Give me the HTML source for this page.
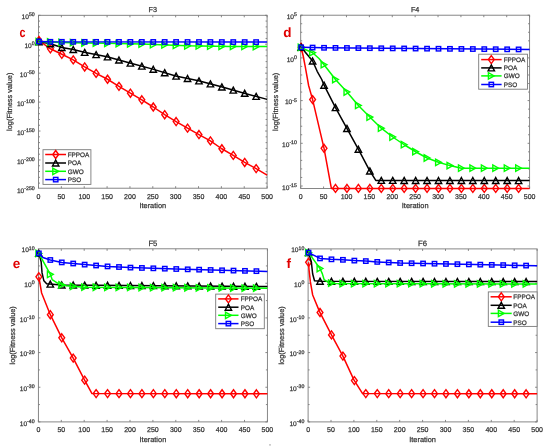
<!DOCTYPE html>
<html><head><meta charset="utf-8"><title>Convergence curves</title><style>html,body{margin:0;padding:0;background:#fff;}body{width:550px;height:448px;overflow:hidden;}svg{display:block;filter:blur(0.35px);text-rendering:geometricPrecision;}text{stroke:#3a3a3a;stroke-width:0.25px;}text.lt{stroke:#e00000;stroke-width:0px;}</style></head><body>
<svg width="550" height="448" viewBox="0 0 550 448" font-family='"Liberation Sans", Arial, Helvetica, sans-serif' fill="#333333">
<rect width="550" height="448" fill="#fff"/>
<g stroke="#7a7a7a" stroke-width="0.9"><line x1="38.50" y1="188.20" x2="38.50" y2="186.20"/><line x1="38.50" y1="15.30" x2="38.50" y2="17.30"/><line x1="61.36" y1="188.20" x2="61.36" y2="186.20"/><line x1="61.36" y1="15.30" x2="61.36" y2="17.30"/><line x1="84.22" y1="188.20" x2="84.22" y2="186.20"/><line x1="84.22" y1="15.30" x2="84.22" y2="17.30"/><line x1="107.08" y1="188.20" x2="107.08" y2="186.20"/><line x1="107.08" y1="15.30" x2="107.08" y2="17.30"/><line x1="129.94" y1="188.20" x2="129.94" y2="186.20"/><line x1="129.94" y1="15.30" x2="129.94" y2="17.30"/><line x1="152.80" y1="188.20" x2="152.80" y2="186.20"/><line x1="152.80" y1="15.30" x2="152.80" y2="17.30"/><line x1="175.66" y1="188.20" x2="175.66" y2="186.20"/><line x1="175.66" y1="15.30" x2="175.66" y2="17.30"/><line x1="198.52" y1="188.20" x2="198.52" y2="186.20"/><line x1="198.52" y1="15.30" x2="198.52" y2="17.30"/><line x1="221.38" y1="188.20" x2="221.38" y2="186.20"/><line x1="221.38" y1="15.30" x2="221.38" y2="17.30"/><line x1="244.24" y1="188.20" x2="244.24" y2="186.20"/><line x1="244.24" y1="15.30" x2="244.24" y2="17.30"/><line x1="267.10" y1="188.20" x2="267.10" y2="186.20"/><line x1="267.10" y1="15.30" x2="267.10" y2="17.30"/><line x1="38.50" y1="183.12" x2="40.00" y2="183.12"/><line x1="267.10" y1="183.12" x2="265.60" y2="183.12"/><line x1="38.50" y1="177.34" x2="40.00" y2="177.34"/><line x1="267.10" y1="177.34" x2="265.60" y2="177.34"/><line x1="38.50" y1="171.55" x2="40.00" y2="171.55"/><line x1="267.10" y1="171.55" x2="265.60" y2="171.55"/><line x1="38.50" y1="165.76" x2="40.00" y2="165.76"/><line x1="267.10" y1="165.76" x2="265.60" y2="165.76"/><line x1="38.50" y1="159.98" x2="40.50" y2="159.98"/><line x1="267.10" y1="159.98" x2="265.10" y2="159.98"/><line x1="38.50" y1="154.19" x2="40.00" y2="154.19"/><line x1="267.10" y1="154.19" x2="265.60" y2="154.19"/><line x1="38.50" y1="148.40" x2="40.00" y2="148.40"/><line x1="267.10" y1="148.40" x2="265.60" y2="148.40"/><line x1="38.50" y1="142.61" x2="40.00" y2="142.61"/><line x1="267.10" y1="142.61" x2="265.60" y2="142.61"/><line x1="38.50" y1="136.83" x2="40.00" y2="136.83"/><line x1="267.10" y1="136.83" x2="265.60" y2="136.83"/><line x1="38.50" y1="131.04" x2="40.50" y2="131.04"/><line x1="267.10" y1="131.04" x2="265.10" y2="131.04"/><line x1="38.50" y1="125.25" x2="40.00" y2="125.25"/><line x1="267.10" y1="125.25" x2="265.60" y2="125.25"/><line x1="38.50" y1="119.47" x2="40.00" y2="119.47"/><line x1="267.10" y1="119.47" x2="265.60" y2="119.47"/><line x1="38.50" y1="113.68" x2="40.00" y2="113.68"/><line x1="267.10" y1="113.68" x2="265.60" y2="113.68"/><line x1="38.50" y1="107.89" x2="40.00" y2="107.89"/><line x1="267.10" y1="107.89" x2="265.60" y2="107.89"/><line x1="38.50" y1="102.10" x2="40.50" y2="102.10"/><line x1="267.10" y1="102.10" x2="265.10" y2="102.10"/><line x1="38.50" y1="96.32" x2="40.00" y2="96.32"/><line x1="267.10" y1="96.32" x2="265.60" y2="96.32"/><line x1="38.50" y1="90.53" x2="40.00" y2="90.53"/><line x1="267.10" y1="90.53" x2="265.60" y2="90.53"/><line x1="38.50" y1="84.74" x2="40.00" y2="84.74"/><line x1="267.10" y1="84.74" x2="265.60" y2="84.74"/><line x1="38.50" y1="78.96" x2="40.00" y2="78.96"/><line x1="267.10" y1="78.96" x2="265.60" y2="78.96"/><line x1="38.50" y1="73.17" x2="40.50" y2="73.17"/><line x1="267.10" y1="73.17" x2="265.10" y2="73.17"/><line x1="38.50" y1="67.38" x2="40.00" y2="67.38"/><line x1="267.10" y1="67.38" x2="265.60" y2="67.38"/><line x1="38.50" y1="61.60" x2="40.00" y2="61.60"/><line x1="267.10" y1="61.60" x2="265.60" y2="61.60"/><line x1="38.50" y1="55.81" x2="40.00" y2="55.81"/><line x1="267.10" y1="55.81" x2="265.60" y2="55.81"/><line x1="38.50" y1="50.02" x2="40.00" y2="50.02"/><line x1="267.10" y1="50.02" x2="265.60" y2="50.02"/><line x1="38.50" y1="44.23" x2="40.50" y2="44.23"/><line x1="267.10" y1="44.23" x2="265.10" y2="44.23"/><line x1="38.50" y1="38.45" x2="40.00" y2="38.45"/><line x1="267.10" y1="38.45" x2="265.60" y2="38.45"/><line x1="38.50" y1="32.66" x2="40.00" y2="32.66"/><line x1="267.10" y1="32.66" x2="265.60" y2="32.66"/><line x1="38.50" y1="26.87" x2="40.00" y2="26.87"/><line x1="267.10" y1="26.87" x2="265.60" y2="26.87"/><line x1="38.50" y1="21.09" x2="40.00" y2="21.09"/><line x1="267.10" y1="21.09" x2="265.60" y2="21.09"/><line x1="38.50" y1="15.30" x2="40.50" y2="15.30"/><line x1="267.10" y1="15.30" x2="265.10" y2="15.30"/></g>
<rect x="38.50" y="15.30" width="228.60" height="172.90" fill="none" stroke="#7a7a7a" stroke-width="0.9"/>
<path d="M38.96 40.50L50.39 48.80L61.82 54.30L72.79 59.60L84.22 66.70L96.11 73.40L107.08 79.00L118.51 86.10L130.40 93.20L141.83 99.80L153.26 107.00L164.69 114.70L175.66 121.30L187.09 127.90L198.52 134.30L210.41 140.90L221.38 148.50L232.81 155.10L244.24 162.20L256.13 168.60L267.10 175.20" fill="none" stroke="#ff0000" stroke-width="1.5" stroke-linejoin="round"/>
<path d="M38.96 36.50L41.86 40.50L38.96 44.50L36.06 40.50Z" fill="none" stroke="#ff0000" stroke-width="1.4"/>
<path d="M50.39 44.80L53.29 48.80L50.39 52.80L47.49 48.80Z" fill="none" stroke="#ff0000" stroke-width="1.4"/>
<path d="M61.82 50.30L64.72 54.30L61.82 58.30L58.92 54.30Z" fill="none" stroke="#ff0000" stroke-width="1.4"/>
<path d="M73.25 55.88L76.15 59.88L73.25 63.88L70.35 59.88Z" fill="none" stroke="#ff0000" stroke-width="1.4"/>
<path d="M84.68 62.96L87.58 66.96L84.68 70.96L81.78 66.96Z" fill="none" stroke="#ff0000" stroke-width="1.4"/>
<path d="M96.11 69.40L99.01 73.40L96.11 77.40L93.21 73.40Z" fill="none" stroke="#ff0000" stroke-width="1.4"/>
<path d="M107.54 75.28L110.44 79.28L107.54 83.28L104.64 79.28Z" fill="none" stroke="#ff0000" stroke-width="1.4"/>
<path d="M118.97 82.37L121.87 86.37L118.97 90.37L116.07 86.37Z" fill="none" stroke="#ff0000" stroke-width="1.4"/>
<path d="M130.40 89.20L133.30 93.20L130.40 97.20L127.50 93.20Z" fill="none" stroke="#ff0000" stroke-width="1.4"/>
<path d="M141.83 95.80L144.73 99.80L141.83 103.80L138.93 99.80Z" fill="none" stroke="#ff0000" stroke-width="1.4"/>
<path d="M153.26 103.00L156.16 107.00L153.26 111.00L150.36 107.00Z" fill="none" stroke="#ff0000" stroke-width="1.4"/>
<path d="M164.69 110.70L167.59 114.70L164.69 118.70L161.79 114.70Z" fill="none" stroke="#ff0000" stroke-width="1.4"/>
<path d="M176.12 117.56L179.02 121.56L176.12 125.56L173.22 121.56Z" fill="none" stroke="#ff0000" stroke-width="1.4"/>
<path d="M187.55 124.16L190.45 128.16L187.55 132.16L184.65 128.16Z" fill="none" stroke="#ff0000" stroke-width="1.4"/>
<path d="M198.98 130.55L201.88 134.55L198.98 138.55L196.08 134.55Z" fill="none" stroke="#ff0000" stroke-width="1.4"/>
<path d="M210.41 136.90L213.31 140.90L210.41 144.90L207.51 140.90Z" fill="none" stroke="#ff0000" stroke-width="1.4"/>
<path d="M221.84 144.76L224.74 148.76L221.84 152.76L218.94 148.76Z" fill="none" stroke="#ff0000" stroke-width="1.4"/>
<path d="M233.27 151.38L236.17 155.38L233.27 159.38L230.37 155.38Z" fill="none" stroke="#ff0000" stroke-width="1.4"/>
<path d="M244.70 158.45L247.60 162.45L244.70 166.45L241.80 162.45Z" fill="none" stroke="#ff0000" stroke-width="1.4"/>
<path d="M256.13 164.60L259.03 168.60L256.13 172.60L253.23 168.60Z" fill="none" stroke="#ff0000" stroke-width="1.4"/>
<path d="M38.96 41.80L50.39 43.80L61.82 47.50L73.25 49.50L84.22 52.30L107.08 56.80L129.94 63.00L152.80 69.10L175.66 76.00L198.52 80.80L221.38 86.80L244.24 93.20L267.10 99.40" fill="none" stroke="#000000" stroke-width="1.5" stroke-linejoin="round"/>
<path d="M38.96 38.80L42.16 44.80L35.76 44.80Z" fill="none" stroke="#000000" stroke-width="1.4"/>
<path d="M50.39 40.80L53.59 46.80L47.19 46.80Z" fill="none" stroke="#000000" stroke-width="1.4"/>
<path d="M61.82 44.50L65.02 50.50L58.62 50.50Z" fill="none" stroke="#000000" stroke-width="1.4"/>
<path d="M73.25 46.50L76.45 52.50L70.05 52.50Z" fill="none" stroke="#000000" stroke-width="1.4"/>
<path d="M84.68 49.39L87.88 55.39L81.48 55.39Z" fill="none" stroke="#000000" stroke-width="1.4"/>
<path d="M96.11 51.64L99.31 57.64L92.91 57.64Z" fill="none" stroke="#000000" stroke-width="1.4"/>
<path d="M107.54 53.92L110.74 59.92L104.34 59.92Z" fill="none" stroke="#000000" stroke-width="1.4"/>
<path d="M118.97 57.02L122.17 63.02L115.77 63.02Z" fill="none" stroke="#000000" stroke-width="1.4"/>
<path d="M130.40 60.12L133.60 66.12L127.20 66.12Z" fill="none" stroke="#000000" stroke-width="1.4"/>
<path d="M141.83 63.17L145.03 69.17L138.63 69.17Z" fill="none" stroke="#000000" stroke-width="1.4"/>
<path d="M153.26 66.24L156.46 72.24L150.06 72.24Z" fill="none" stroke="#000000" stroke-width="1.4"/>
<path d="M164.69 69.69L167.89 75.69L161.49 75.69Z" fill="none" stroke="#000000" stroke-width="1.4"/>
<path d="M176.12 73.10L179.32 79.10L172.92 79.10Z" fill="none" stroke="#000000" stroke-width="1.4"/>
<path d="M187.55 75.50L190.75 81.50L184.35 81.50Z" fill="none" stroke="#000000" stroke-width="1.4"/>
<path d="M198.98 77.92L202.18 83.92L195.78 83.92Z" fill="none" stroke="#000000" stroke-width="1.4"/>
<path d="M210.41 80.92L213.61 86.92L207.21 86.92Z" fill="none" stroke="#000000" stroke-width="1.4"/>
<path d="M221.84 83.93L225.04 89.93L218.64 89.93Z" fill="none" stroke="#000000" stroke-width="1.4"/>
<path d="M233.27 87.13L236.47 93.13L230.07 93.13Z" fill="none" stroke="#000000" stroke-width="1.4"/>
<path d="M244.70 90.32L247.90 96.32L241.50 96.32Z" fill="none" stroke="#000000" stroke-width="1.4"/>
<path d="M256.13 93.42L259.33 99.42L252.93 99.42Z" fill="none" stroke="#000000" stroke-width="1.4"/>
<path d="M38.96 41.60L61.36 42.40L84.22 43.00L107.08 43.30L141.37 44.10L187.09 45.80L230.52 46.40L267.10 46.60" fill="none" stroke="#00ff00" stroke-width="1.5" stroke-linejoin="round"/>
<path d="M41.86 41.60L36.06 44.80L36.06 38.40Z" fill="none" stroke="#00ff00" stroke-width="1.4"/>
<path d="M53.29 42.01L47.49 45.21L47.49 38.81Z" fill="none" stroke="#00ff00" stroke-width="1.4"/>
<path d="M64.72 42.41L58.92 45.61L58.92 39.21Z" fill="none" stroke="#00ff00" stroke-width="1.4"/>
<path d="M76.15 42.71L70.35 45.91L70.35 39.51Z" fill="none" stroke="#00ff00" stroke-width="1.4"/>
<path d="M87.58 43.01L81.78 46.21L81.78 39.81Z" fill="none" stroke="#00ff00" stroke-width="1.4"/>
<path d="M99.01 43.16L93.21 46.36L93.21 39.96Z" fill="none" stroke="#00ff00" stroke-width="1.4"/>
<path d="M110.44 43.31L104.64 46.51L104.64 40.11Z" fill="none" stroke="#00ff00" stroke-width="1.4"/>
<path d="M121.87 43.58L116.07 46.78L116.07 40.38Z" fill="none" stroke="#00ff00" stroke-width="1.4"/>
<path d="M133.30 43.84L127.50 47.04L127.50 40.64Z" fill="none" stroke="#00ff00" stroke-width="1.4"/>
<path d="M144.73 44.12L138.93 47.32L138.93 40.92Z" fill="none" stroke="#00ff00" stroke-width="1.4"/>
<path d="M156.16 44.54L150.36 47.74L150.36 41.34Z" fill="none" stroke="#00ff00" stroke-width="1.4"/>
<path d="M167.59 44.97L161.79 48.17L161.79 41.77Z" fill="none" stroke="#00ff00" stroke-width="1.4"/>
<path d="M179.02 45.39L173.22 48.59L173.22 42.19Z" fill="none" stroke="#00ff00" stroke-width="1.4"/>
<path d="M190.45 45.81L184.65 49.01L184.65 42.61Z" fill="none" stroke="#00ff00" stroke-width="1.4"/>
<path d="M201.88 45.96L196.08 49.16L196.08 42.76Z" fill="none" stroke="#00ff00" stroke-width="1.4"/>
<path d="M213.31 46.12L207.51 49.32L207.51 42.92Z" fill="none" stroke="#00ff00" stroke-width="1.4"/>
<path d="M224.74 46.28L218.94 49.48L218.94 43.08Z" fill="none" stroke="#00ff00" stroke-width="1.4"/>
<path d="M236.17 46.41L230.37 49.62L230.37 43.21Z" fill="none" stroke="#00ff00" stroke-width="1.4"/>
<path d="M247.60 46.48L241.80 49.68L241.80 43.28Z" fill="none" stroke="#00ff00" stroke-width="1.4"/>
<path d="M259.03 46.54L253.23 49.74L253.23 43.34Z" fill="none" stroke="#00ff00" stroke-width="1.4"/>
<path d="M38.96 41.50L50.39 41.80L267.10 42.10" fill="none" stroke="#0000ff" stroke-width="1.5" stroke-linejoin="round"/>
<rect x="36.76" y="39.30" width="4.40" height="4.40" fill="none" stroke="#0000ff" stroke-width="1.4"/>
<rect x="48.19" y="39.60" width="4.40" height="4.40" fill="none" stroke="#0000ff" stroke-width="1.4"/>
<rect x="59.62" y="39.62" width="4.40" height="4.40" fill="none" stroke="#0000ff" stroke-width="1.4"/>
<rect x="71.05" y="39.63" width="4.40" height="4.40" fill="none" stroke="#0000ff" stroke-width="1.4"/>
<rect x="82.48" y="39.65" width="4.40" height="4.40" fill="none" stroke="#0000ff" stroke-width="1.4"/>
<rect x="93.91" y="39.66" width="4.40" height="4.40" fill="none" stroke="#0000ff" stroke-width="1.4"/>
<rect x="105.34" y="39.68" width="4.40" height="4.40" fill="none" stroke="#0000ff" stroke-width="1.4"/>
<rect x="116.77" y="39.69" width="4.40" height="4.40" fill="none" stroke="#0000ff" stroke-width="1.4"/>
<rect x="128.20" y="39.71" width="4.40" height="4.40" fill="none" stroke="#0000ff" stroke-width="1.4"/>
<rect x="139.63" y="39.73" width="4.40" height="4.40" fill="none" stroke="#0000ff" stroke-width="1.4"/>
<rect x="151.06" y="39.74" width="4.40" height="4.40" fill="none" stroke="#0000ff" stroke-width="1.4"/>
<rect x="162.49" y="39.76" width="4.40" height="4.40" fill="none" stroke="#0000ff" stroke-width="1.4"/>
<rect x="173.92" y="39.77" width="4.40" height="4.40" fill="none" stroke="#0000ff" stroke-width="1.4"/>
<rect x="185.35" y="39.79" width="4.40" height="4.40" fill="none" stroke="#0000ff" stroke-width="1.4"/>
<rect x="196.78" y="39.81" width="4.40" height="4.40" fill="none" stroke="#0000ff" stroke-width="1.4"/>
<rect x="208.21" y="39.82" width="4.40" height="4.40" fill="none" stroke="#0000ff" stroke-width="1.4"/>
<rect x="219.64" y="39.84" width="4.40" height="4.40" fill="none" stroke="#0000ff" stroke-width="1.4"/>
<rect x="231.07" y="39.85" width="4.40" height="4.40" fill="none" stroke="#0000ff" stroke-width="1.4"/>
<rect x="242.50" y="39.87" width="4.40" height="4.40" fill="none" stroke="#0000ff" stroke-width="1.4"/>
<rect x="253.93" y="39.88" width="4.40" height="4.40" fill="none" stroke="#0000ff" stroke-width="1.4"/>
<text x="38.50" y="198.60" text-anchor="middle" font-size="7">0</text>
<text x="61.36" y="198.60" text-anchor="middle" font-size="7">50</text>
<text x="84.22" y="198.60" text-anchor="middle" font-size="7">100</text>
<text x="107.08" y="198.60" text-anchor="middle" font-size="7">150</text>
<text x="129.94" y="198.60" text-anchor="middle" font-size="7">200</text>
<text x="152.80" y="198.60" text-anchor="middle" font-size="7">250</text>
<text x="175.66" y="198.60" text-anchor="middle" font-size="7">300</text>
<text x="198.52" y="198.60" text-anchor="middle" font-size="7">350</text>
<text x="221.38" y="198.60" text-anchor="middle" font-size="7">400</text>
<text x="244.24" y="198.60" text-anchor="middle" font-size="7">450</text>
<text x="267.10" y="198.60" text-anchor="middle" font-size="7">500</text>
<text x="152.80" y="207.80" text-anchor="middle" font-size="7.4">Iteration</text>
<text x="34.70" y="192.71" text-anchor="end" font-size="6.6">10<tspan font-size="5.2" dy="-2.7">-250</tspan></text>
<text x="34.70" y="163.78" text-anchor="end" font-size="6.6">10<tspan font-size="5.2" dy="-2.7">-200</tspan></text>
<text x="34.70" y="134.84" text-anchor="end" font-size="6.6">10<tspan font-size="5.2" dy="-2.7">-150</tspan></text>
<text x="34.70" y="105.90" text-anchor="end" font-size="6.6">10<tspan font-size="5.2" dy="-2.7">-100</tspan></text>
<text x="34.70" y="76.97" text-anchor="end" font-size="6.6">10<tspan font-size="5.2" dy="-2.7">-50</tspan></text>
<text x="34.70" y="48.03" text-anchor="end" font-size="6.6">10<tspan font-size="5.2" dy="-2.7">0</tspan></text>
<text x="34.70" y="19.10" text-anchor="end" font-size="6.6">10<tspan font-size="5.2" dy="-2.7">50</tspan></text>
<text transform="translate(11.80 101.75) rotate(-90)" text-anchor="middle" font-size="7.4">log(Fitness value)</text>
<text x="152.80" y="12.00" text-anchor="middle" font-size="7.2">F3</text>
<text transform="translate(19.60 37.00) scale(0.8 1)" font-size="13.5" font-weight="bold" fill="#e00000" class="lt">c</text>
<rect x="43.00" y="149.70" width="47.90" height="34.70" fill="#fff" stroke="#7a7a7a" stroke-width="0.9"/>
<line x1="45.20" y1="154.50" x2="66.00" y2="154.50" stroke="#ff0000" stroke-width="1.5"/>
<path d="M55.70 150.50L58.60 154.50L55.70 158.50L52.80 154.50Z" fill="none" stroke="#ff0000" stroke-width="1.4"/>
<text x="67.70" y="156.80" font-size="6.4">FPPOA</text>
<line x1="45.20" y1="163.00" x2="66.00" y2="163.00" stroke="#000000" stroke-width="1.5"/>
<path d="M55.70 160.00L58.90 166.00L52.50 166.00Z" fill="none" stroke="#000000" stroke-width="1.4"/>
<text x="67.70" y="165.30" font-size="6.4">POA</text>
<line x1="45.20" y1="171.30" x2="66.00" y2="171.30" stroke="#00ff00" stroke-width="1.5"/>
<path d="M58.60 171.30L52.80 174.50L52.80 168.10Z" fill="none" stroke="#00ff00" stroke-width="1.4"/>
<text x="67.70" y="173.60" font-size="6.4">GWO</text>
<line x1="45.20" y1="179.60" x2="66.00" y2="179.60" stroke="#0000ff" stroke-width="1.5"/>
<rect x="53.50" y="177.40" width="4.40" height="4.40" fill="none" stroke="#0000ff" stroke-width="1.4"/>
<text x="67.70" y="181.90" font-size="6.4">PSO</text>
<g stroke="#7a7a7a" stroke-width="0.9"><line x1="300.70" y1="188.50" x2="300.70" y2="186.50"/><line x1="300.70" y1="15.20" x2="300.70" y2="17.20"/><line x1="323.59" y1="188.50" x2="323.59" y2="186.50"/><line x1="323.59" y1="15.20" x2="323.59" y2="17.20"/><line x1="346.48" y1="188.50" x2="346.48" y2="186.50"/><line x1="346.48" y1="15.20" x2="346.48" y2="17.20"/><line x1="369.37" y1="188.50" x2="369.37" y2="186.50"/><line x1="369.37" y1="15.20" x2="369.37" y2="17.20"/><line x1="392.26" y1="188.50" x2="392.26" y2="186.50"/><line x1="392.26" y1="15.20" x2="392.26" y2="17.20"/><line x1="415.15" y1="188.50" x2="415.15" y2="186.50"/><line x1="415.15" y1="15.20" x2="415.15" y2="17.20"/><line x1="438.04" y1="188.50" x2="438.04" y2="186.50"/><line x1="438.04" y1="15.20" x2="438.04" y2="17.20"/><line x1="460.93" y1="188.50" x2="460.93" y2="186.50"/><line x1="460.93" y1="15.20" x2="460.93" y2="17.20"/><line x1="483.82" y1="188.50" x2="483.82" y2="186.50"/><line x1="483.82" y1="15.20" x2="483.82" y2="17.20"/><line x1="506.71" y1="188.50" x2="506.71" y2="186.50"/><line x1="506.71" y1="15.20" x2="506.71" y2="17.20"/><line x1="529.60" y1="188.50" x2="529.60" y2="186.50"/><line x1="529.60" y1="15.20" x2="529.60" y2="17.20"/><line x1="300.70" y1="186.00" x2="302.70" y2="186.00"/><line x1="529.60" y1="186.00" x2="527.60" y2="186.00"/><line x1="300.70" y1="177.46" x2="302.20" y2="177.46"/><line x1="529.60" y1="177.46" x2="528.10" y2="177.46"/><line x1="300.70" y1="168.92" x2="302.20" y2="168.92"/><line x1="529.60" y1="168.92" x2="528.10" y2="168.92"/><line x1="300.70" y1="160.38" x2="302.20" y2="160.38"/><line x1="529.60" y1="160.38" x2="528.10" y2="160.38"/><line x1="300.70" y1="151.84" x2="302.20" y2="151.84"/><line x1="529.60" y1="151.84" x2="528.10" y2="151.84"/><line x1="300.70" y1="143.30" x2="302.70" y2="143.30"/><line x1="529.60" y1="143.30" x2="527.60" y2="143.30"/><line x1="300.70" y1="134.76" x2="302.20" y2="134.76"/><line x1="529.60" y1="134.76" x2="528.10" y2="134.76"/><line x1="300.70" y1="126.22" x2="302.20" y2="126.22"/><line x1="529.60" y1="126.22" x2="528.10" y2="126.22"/><line x1="300.70" y1="117.68" x2="302.20" y2="117.68"/><line x1="529.60" y1="117.68" x2="528.10" y2="117.68"/><line x1="300.70" y1="109.14" x2="302.20" y2="109.14"/><line x1="529.60" y1="109.14" x2="528.10" y2="109.14"/><line x1="300.70" y1="100.60" x2="302.70" y2="100.60"/><line x1="529.60" y1="100.60" x2="527.60" y2="100.60"/><line x1="300.70" y1="92.06" x2="302.20" y2="92.06"/><line x1="529.60" y1="92.06" x2="528.10" y2="92.06"/><line x1="300.70" y1="83.52" x2="302.20" y2="83.52"/><line x1="529.60" y1="83.52" x2="528.10" y2="83.52"/><line x1="300.70" y1="74.98" x2="302.20" y2="74.98"/><line x1="529.60" y1="74.98" x2="528.10" y2="74.98"/><line x1="300.70" y1="66.44" x2="302.20" y2="66.44"/><line x1="529.60" y1="66.44" x2="528.10" y2="66.44"/><line x1="300.70" y1="57.90" x2="302.70" y2="57.90"/><line x1="529.60" y1="57.90" x2="527.60" y2="57.90"/><line x1="300.70" y1="49.36" x2="302.20" y2="49.36"/><line x1="529.60" y1="49.36" x2="528.10" y2="49.36"/><line x1="300.70" y1="40.82" x2="302.20" y2="40.82"/><line x1="529.60" y1="40.82" x2="528.10" y2="40.82"/><line x1="300.70" y1="32.28" x2="302.20" y2="32.28"/><line x1="529.60" y1="32.28" x2="528.10" y2="32.28"/><line x1="300.70" y1="23.74" x2="302.20" y2="23.74"/><line x1="529.60" y1="23.74" x2="528.10" y2="23.74"/><line x1="300.70" y1="15.20" x2="302.70" y2="15.20"/><line x1="529.60" y1="15.20" x2="527.60" y2="15.20"/></g>
<rect x="300.70" y="15.20" width="228.90" height="173.30" fill="none" stroke="#7a7a7a" stroke-width="0.9"/>
<path d="M301.16 47.30L303.22 56.00L305.28 66.80L308.62 85.50L312.60 99.60L324.05 148.30L331.37 188.40L529.60 188.40" fill="none" stroke="#ff0000" stroke-width="1.5" stroke-linejoin="round"/>
<path d="M301.16 43.30L304.06 47.30L301.16 51.30L298.26 47.30Z" fill="none" stroke="#ff0000" stroke-width="1.4"/>
<path d="M312.60 95.60L315.50 99.60L312.60 103.60L309.70 99.60Z" fill="none" stroke="#ff0000" stroke-width="1.4"/>
<path d="M324.05 144.30L326.95 148.30L324.05 152.30L321.15 148.30Z" fill="none" stroke="#ff0000" stroke-width="1.4"/>
<path d="M335.49 184.40L338.39 188.40L335.49 192.40L332.59 188.40Z" fill="none" stroke="#ff0000" stroke-width="1.4"/>
<path d="M346.94 184.40L349.84 188.40L346.94 192.40L344.04 188.40Z" fill="none" stroke="#ff0000" stroke-width="1.4"/>
<path d="M358.38 184.40L361.28 188.40L358.38 192.40L355.48 188.40Z" fill="none" stroke="#ff0000" stroke-width="1.4"/>
<path d="M369.83 184.40L372.73 188.40L369.83 192.40L366.93 188.40Z" fill="none" stroke="#ff0000" stroke-width="1.4"/>
<path d="M381.27 184.40L384.17 188.40L381.27 192.40L378.37 188.40Z" fill="none" stroke="#ff0000" stroke-width="1.4"/>
<path d="M392.72 184.40L395.62 188.40L392.72 192.40L389.82 188.40Z" fill="none" stroke="#ff0000" stroke-width="1.4"/>
<path d="M404.16 184.40L407.06 188.40L404.16 192.40L401.26 188.40Z" fill="none" stroke="#ff0000" stroke-width="1.4"/>
<path d="M415.61 184.40L418.51 188.40L415.61 192.40L412.71 188.40Z" fill="none" stroke="#ff0000" stroke-width="1.4"/>
<path d="M427.05 184.40L429.95 188.40L427.05 192.40L424.15 188.40Z" fill="none" stroke="#ff0000" stroke-width="1.4"/>
<path d="M438.50 184.40L441.40 188.40L438.50 192.40L435.60 188.40Z" fill="none" stroke="#ff0000" stroke-width="1.4"/>
<path d="M449.94 184.40L452.84 188.40L449.94 192.40L447.04 188.40Z" fill="none" stroke="#ff0000" stroke-width="1.4"/>
<path d="M461.39 184.40L464.29 188.40L461.39 192.40L458.49 188.40Z" fill="none" stroke="#ff0000" stroke-width="1.4"/>
<path d="M472.83 184.40L475.73 188.40L472.83 192.40L469.93 188.40Z" fill="none" stroke="#ff0000" stroke-width="1.4"/>
<path d="M484.28 184.40L487.18 188.40L484.28 192.40L481.38 188.40Z" fill="none" stroke="#ff0000" stroke-width="1.4"/>
<path d="M495.72 184.40L498.62 188.40L495.72 192.40L492.82 188.40Z" fill="none" stroke="#ff0000" stroke-width="1.4"/>
<path d="M507.17 184.40L510.07 188.40L507.17 192.40L504.27 188.40Z" fill="none" stroke="#ff0000" stroke-width="1.4"/>
<path d="M518.61 184.40L521.51 188.40L518.61 192.40L515.71 188.40Z" fill="none" stroke="#ff0000" stroke-width="1.4"/>
<path d="M301.16 47.30L312.60 61.00L317.18 71.30L321.76 79.50L324.05 85.20L335.49 107.60L346.48 127.60L358.84 150.10L369.37 170.20L375.78 180.40L529.60 180.60" fill="none" stroke="#000000" stroke-width="1.5" stroke-linejoin="round"/>
<path d="M301.16 44.30L304.36 50.30L297.96 50.30Z" fill="none" stroke="#000000" stroke-width="1.4"/>
<path d="M312.60 58.00L315.80 64.00L309.40 64.00Z" fill="none" stroke="#000000" stroke-width="1.4"/>
<path d="M324.05 82.20L327.25 88.20L320.85 88.20Z" fill="none" stroke="#000000" stroke-width="1.4"/>
<path d="M335.49 104.60L338.69 110.60L332.29 110.60Z" fill="none" stroke="#000000" stroke-width="1.4"/>
<path d="M346.94 125.43L350.14 131.43L343.74 131.43Z" fill="none" stroke="#000000" stroke-width="1.4"/>
<path d="M358.38 146.27L361.58 152.27L355.18 152.27Z" fill="none" stroke="#000000" stroke-width="1.4"/>
<path d="M369.83 167.93L373.03 173.93L366.63 173.93Z" fill="none" stroke="#000000" stroke-width="1.4"/>
<path d="M381.27 177.41L384.47 183.41L378.07 183.41Z" fill="none" stroke="#000000" stroke-width="1.4"/>
<path d="M392.72 177.42L395.92 183.42L389.52 183.42Z" fill="none" stroke="#000000" stroke-width="1.4"/>
<path d="M404.16 177.44L407.36 183.44L400.96 183.44Z" fill="none" stroke="#000000" stroke-width="1.4"/>
<path d="M415.61 177.45L418.81 183.45L412.41 183.45Z" fill="none" stroke="#000000" stroke-width="1.4"/>
<path d="M427.05 177.47L430.25 183.47L423.85 183.47Z" fill="none" stroke="#000000" stroke-width="1.4"/>
<path d="M438.50 177.48L441.70 183.48L435.30 183.48Z" fill="none" stroke="#000000" stroke-width="1.4"/>
<path d="M449.94 177.50L453.14 183.50L446.74 183.50Z" fill="none" stroke="#000000" stroke-width="1.4"/>
<path d="M461.39 177.51L464.59 183.51L458.19 183.51Z" fill="none" stroke="#000000" stroke-width="1.4"/>
<path d="M472.83 177.53L476.03 183.53L469.63 183.53Z" fill="none" stroke="#000000" stroke-width="1.4"/>
<path d="M484.28 177.54L487.48 183.54L481.08 183.54Z" fill="none" stroke="#000000" stroke-width="1.4"/>
<path d="M495.72 177.56L498.92 183.56L492.52 183.56Z" fill="none" stroke="#000000" stroke-width="1.4"/>
<path d="M507.17 177.57L510.37 183.57L503.97 183.57Z" fill="none" stroke="#000000" stroke-width="1.4"/>
<path d="M518.61 177.59L521.81 183.59L515.41 183.59Z" fill="none" stroke="#000000" stroke-width="1.4"/>
<path d="M301.16 47.30L305.28 49.50L312.60 52.70L319.01 58.50L324.05 64.70L335.49 79.50L346.94 92.00L358.84 106.00L370.29 117.50L381.27 128.20L392.72 137.00L404.62 145.00L416.07 152.00L427.05 158.00L438.50 162.30L449.94 165.60L461.39 168.20L529.60 168.20" fill="none" stroke="#00ff00" stroke-width="1.5" stroke-linejoin="round"/>
<path d="M304.06 47.30L298.26 50.50L298.26 44.10Z" fill="none" stroke="#00ff00" stroke-width="1.4"/>
<path d="M315.50 52.70L309.70 55.90L309.70 49.50Z" fill="none" stroke="#00ff00" stroke-width="1.4"/>
<path d="M326.95 64.70L321.15 67.90L321.15 61.50Z" fill="none" stroke="#00ff00" stroke-width="1.4"/>
<path d="M338.39 79.50L332.59 82.70L332.59 76.30Z" fill="none" stroke="#00ff00" stroke-width="1.4"/>
<path d="M349.84 92.00L344.04 95.20L344.04 88.80Z" fill="none" stroke="#00ff00" stroke-width="1.4"/>
<path d="M361.28 105.46L355.48 108.66L355.48 102.26Z" fill="none" stroke="#00ff00" stroke-width="1.4"/>
<path d="M372.73 117.04L366.93 120.24L366.93 113.84Z" fill="none" stroke="#00ff00" stroke-width="1.4"/>
<path d="M384.17 128.20L378.37 131.40L378.37 125.00Z" fill="none" stroke="#00ff00" stroke-width="1.4"/>
<path d="M395.62 137.00L389.82 140.20L389.82 133.80Z" fill="none" stroke="#00ff00" stroke-width="1.4"/>
<path d="M407.06 144.69L401.26 147.89L401.26 141.49Z" fill="none" stroke="#00ff00" stroke-width="1.4"/>
<path d="M418.51 151.72L412.71 154.92L412.71 148.52Z" fill="none" stroke="#00ff00" stroke-width="1.4"/>
<path d="M429.95 158.00L424.15 161.20L424.15 154.80Z" fill="none" stroke="#00ff00" stroke-width="1.4"/>
<path d="M441.40 162.30L435.60 165.50L435.60 159.10Z" fill="none" stroke="#00ff00" stroke-width="1.4"/>
<path d="M452.84 165.60L447.04 168.80L447.04 162.40Z" fill="none" stroke="#00ff00" stroke-width="1.4"/>
<path d="M464.29 168.20L458.49 171.40L458.49 165.00Z" fill="none" stroke="#00ff00" stroke-width="1.4"/>
<path d="M475.73 168.20L469.93 171.40L469.93 165.00Z" fill="none" stroke="#00ff00" stroke-width="1.4"/>
<path d="M487.18 168.20L481.38 171.40L481.38 165.00Z" fill="none" stroke="#00ff00" stroke-width="1.4"/>
<path d="M498.62 168.20L492.82 171.40L492.82 165.00Z" fill="none" stroke="#00ff00" stroke-width="1.4"/>
<path d="M510.07 168.20L504.27 171.40L504.27 165.00Z" fill="none" stroke="#00ff00" stroke-width="1.4"/>
<path d="M521.51 168.20L515.71 171.40L515.71 165.00Z" fill="none" stroke="#00ff00" stroke-width="1.4"/>
<path d="M301.16 47.30L323.59 47.80L529.60 49.50" fill="none" stroke="#0000ff" stroke-width="1.5" stroke-linejoin="round"/>
<rect x="298.96" y="45.10" width="4.40" height="4.40" fill="none" stroke="#0000ff" stroke-width="1.4"/>
<rect x="310.40" y="45.36" width="4.40" height="4.40" fill="none" stroke="#0000ff" stroke-width="1.4"/>
<rect x="321.85" y="45.60" width="4.40" height="4.40" fill="none" stroke="#0000ff" stroke-width="1.4"/>
<rect x="333.29" y="45.70" width="4.40" height="4.40" fill="none" stroke="#0000ff" stroke-width="1.4"/>
<rect x="344.74" y="45.79" width="4.40" height="4.40" fill="none" stroke="#0000ff" stroke-width="1.4"/>
<rect x="356.18" y="45.89" width="4.40" height="4.40" fill="none" stroke="#0000ff" stroke-width="1.4"/>
<rect x="367.63" y="45.98" width="4.40" height="4.40" fill="none" stroke="#0000ff" stroke-width="1.4"/>
<rect x="379.07" y="46.08" width="4.40" height="4.40" fill="none" stroke="#0000ff" stroke-width="1.4"/>
<rect x="390.52" y="46.17" width="4.40" height="4.40" fill="none" stroke="#0000ff" stroke-width="1.4"/>
<rect x="401.96" y="46.26" width="4.40" height="4.40" fill="none" stroke="#0000ff" stroke-width="1.4"/>
<rect x="413.41" y="46.36" width="4.40" height="4.40" fill="none" stroke="#0000ff" stroke-width="1.4"/>
<rect x="424.85" y="46.45" width="4.40" height="4.40" fill="none" stroke="#0000ff" stroke-width="1.4"/>
<rect x="436.30" y="46.55" width="4.40" height="4.40" fill="none" stroke="#0000ff" stroke-width="1.4"/>
<rect x="447.74" y="46.64" width="4.40" height="4.40" fill="none" stroke="#0000ff" stroke-width="1.4"/>
<rect x="459.19" y="46.74" width="4.40" height="4.40" fill="none" stroke="#0000ff" stroke-width="1.4"/>
<rect x="470.63" y="46.83" width="4.40" height="4.40" fill="none" stroke="#0000ff" stroke-width="1.4"/>
<rect x="482.08" y="46.93" width="4.40" height="4.40" fill="none" stroke="#0000ff" stroke-width="1.4"/>
<rect x="493.52" y="47.02" width="4.40" height="4.40" fill="none" stroke="#0000ff" stroke-width="1.4"/>
<rect x="504.97" y="47.11" width="4.40" height="4.40" fill="none" stroke="#0000ff" stroke-width="1.4"/>
<rect x="516.41" y="47.21" width="4.40" height="4.40" fill="none" stroke="#0000ff" stroke-width="1.4"/>
<text x="300.70" y="198.60" text-anchor="middle" font-size="7">0</text>
<text x="323.59" y="198.60" text-anchor="middle" font-size="7">50</text>
<text x="346.48" y="198.60" text-anchor="middle" font-size="7">100</text>
<text x="369.37" y="198.60" text-anchor="middle" font-size="7">150</text>
<text x="392.26" y="198.60" text-anchor="middle" font-size="7">200</text>
<text x="415.15" y="198.60" text-anchor="middle" font-size="7">250</text>
<text x="438.04" y="198.60" text-anchor="middle" font-size="7">300</text>
<text x="460.93" y="198.60" text-anchor="middle" font-size="7">350</text>
<text x="483.82" y="198.60" text-anchor="middle" font-size="7">400</text>
<text x="506.71" y="198.60" text-anchor="middle" font-size="7">450</text>
<text x="529.60" y="198.60" text-anchor="middle" font-size="7">500</text>
<text x="415.15" y="207.80" text-anchor="middle" font-size="7.4">Iteration</text>
<text x="296.90" y="189.80" text-anchor="end" font-size="6.6">10<tspan font-size="5.2" dy="-2.7">-15</tspan></text>
<text x="296.90" y="147.10" text-anchor="end" font-size="6.6">10<tspan font-size="5.2" dy="-2.7">-10</tspan></text>
<text x="296.90" y="104.40" text-anchor="end" font-size="6.6">10<tspan font-size="5.2" dy="-2.7">-5</tspan></text>
<text x="296.90" y="61.70" text-anchor="end" font-size="6.6">10<tspan font-size="5.2" dy="-2.7">0</tspan></text>
<text x="296.90" y="19.00" text-anchor="end" font-size="6.6">10<tspan font-size="5.2" dy="-2.7">5</tspan></text>
<text transform="translate(277.70 101.85) rotate(-90)" text-anchor="middle" font-size="7.4">log(Fitness value)</text>
<text x="415.15" y="12.00" text-anchor="middle" font-size="7.2">F4</text>
<text transform="translate(283.30 36.80) scale(1.0 1)" font-size="13.5" font-weight="bold" fill="#e00000" class="lt">d</text>
<rect x="478.70" y="54.20" width="48.80" height="35.00" fill="#fff" stroke="#7a7a7a" stroke-width="0.9"/>
<line x1="481.20" y1="59.60" x2="501.60" y2="59.60" stroke="#ff0000" stroke-width="1.5"/>
<path d="M491.30 55.60L494.20 59.60L491.30 63.60L488.40 59.60Z" fill="none" stroke="#ff0000" stroke-width="1.4"/>
<text x="503.70" y="61.90" font-size="6.4">FPPOA</text>
<line x1="481.20" y1="67.90" x2="501.60" y2="67.90" stroke="#000000" stroke-width="1.5"/>
<path d="M491.30 64.90L494.50 70.90L488.10 70.90Z" fill="none" stroke="#000000" stroke-width="1.4"/>
<text x="503.70" y="70.20" font-size="6.4">POA</text>
<line x1="481.20" y1="75.90" x2="501.60" y2="75.90" stroke="#00ff00" stroke-width="1.5"/>
<path d="M494.20 75.90L488.40 79.10L488.40 72.70Z" fill="none" stroke="#00ff00" stroke-width="1.4"/>
<text x="503.70" y="78.20" font-size="6.4">GWO</text>
<line x1="481.20" y1="84.50" x2="501.60" y2="84.50" stroke="#0000ff" stroke-width="1.5"/>
<rect x="489.10" y="82.30" width="4.40" height="4.40" fill="none" stroke="#0000ff" stroke-width="1.4"/>
<text x="503.70" y="86.80" font-size="6.4">PSO</text>
<g stroke="#7a7a7a" stroke-width="0.9"><line x1="38.40" y1="421.90" x2="38.40" y2="419.90"/><line x1="38.40" y1="248.80" x2="38.40" y2="250.80"/><line x1="61.30" y1="421.90" x2="61.30" y2="419.90"/><line x1="61.30" y1="248.80" x2="61.30" y2="250.80"/><line x1="84.20" y1="421.90" x2="84.20" y2="419.90"/><line x1="84.20" y1="248.80" x2="84.20" y2="250.80"/><line x1="107.10" y1="421.90" x2="107.10" y2="419.90"/><line x1="107.10" y1="248.80" x2="107.10" y2="250.80"/><line x1="130.00" y1="421.90" x2="130.00" y2="419.90"/><line x1="130.00" y1="248.80" x2="130.00" y2="250.80"/><line x1="152.90" y1="421.90" x2="152.90" y2="419.90"/><line x1="152.90" y1="248.80" x2="152.90" y2="250.80"/><line x1="175.80" y1="421.90" x2="175.80" y2="419.90"/><line x1="175.80" y1="248.80" x2="175.80" y2="250.80"/><line x1="198.70" y1="421.90" x2="198.70" y2="419.90"/><line x1="198.70" y1="248.80" x2="198.70" y2="250.80"/><line x1="221.60" y1="421.90" x2="221.60" y2="419.90"/><line x1="221.60" y1="248.80" x2="221.60" y2="250.80"/><line x1="244.50" y1="421.90" x2="244.50" y2="419.90"/><line x1="244.50" y1="248.80" x2="244.50" y2="250.80"/><line x1="267.40" y1="421.90" x2="267.40" y2="419.90"/><line x1="267.40" y1="248.80" x2="267.40" y2="250.80"/><line x1="38.40" y1="421.90" x2="40.40" y2="421.90"/><line x1="267.40" y1="421.90" x2="265.40" y2="421.90"/><line x1="38.40" y1="404.57" x2="39.90" y2="404.57"/><line x1="267.40" y1="404.57" x2="265.90" y2="404.57"/><line x1="38.40" y1="387.24" x2="40.40" y2="387.24"/><line x1="267.40" y1="387.24" x2="265.40" y2="387.24"/><line x1="38.40" y1="369.91" x2="39.90" y2="369.91"/><line x1="267.40" y1="369.91" x2="265.90" y2="369.91"/><line x1="38.40" y1="352.58" x2="40.40" y2="352.58"/><line x1="267.40" y1="352.58" x2="265.40" y2="352.58"/><line x1="38.40" y1="335.25" x2="39.90" y2="335.25"/><line x1="267.40" y1="335.25" x2="265.90" y2="335.25"/><line x1="38.40" y1="317.92" x2="40.40" y2="317.92"/><line x1="267.40" y1="317.92" x2="265.40" y2="317.92"/><line x1="38.40" y1="300.59" x2="39.90" y2="300.59"/><line x1="267.40" y1="300.59" x2="265.90" y2="300.59"/><line x1="38.40" y1="283.26" x2="40.40" y2="283.26"/><line x1="267.40" y1="283.26" x2="265.40" y2="283.26"/><line x1="38.40" y1="265.93" x2="39.90" y2="265.93"/><line x1="267.40" y1="265.93" x2="265.90" y2="265.93"/></g>
<rect x="38.40" y="248.80" width="229.00" height="173.10" fill="none" stroke="#7a7a7a" stroke-width="0.9"/>
<path d="M38.86 276.80L41.61 293.00L50.31 314.70L61.76 337.80L73.21 358.10L84.20 379.30L91.99 393.60L267.40 393.80" fill="none" stroke="#ff0000" stroke-width="1.5" stroke-linejoin="round"/>
<path d="M38.86 272.80L41.76 276.80L38.86 280.80L35.96 276.80Z" fill="none" stroke="#ff0000" stroke-width="1.4"/>
<path d="M50.31 310.70L53.21 314.70L50.31 318.70L47.41 314.70Z" fill="none" stroke="#ff0000" stroke-width="1.4"/>
<path d="M61.76 333.80L64.66 337.80L61.76 341.80L58.86 337.80Z" fill="none" stroke="#ff0000" stroke-width="1.4"/>
<path d="M73.21 354.10L76.11 358.10L73.21 362.10L70.31 358.10Z" fill="none" stroke="#ff0000" stroke-width="1.4"/>
<path d="M84.66 376.14L87.56 380.14L84.66 384.14L81.76 380.14Z" fill="none" stroke="#ff0000" stroke-width="1.4"/>
<path d="M96.11 389.60L99.01 393.60L96.11 397.60L93.21 393.60Z" fill="none" stroke="#ff0000" stroke-width="1.4"/>
<path d="M107.56 389.62L110.46 393.62L107.56 397.62L104.66 393.62Z" fill="none" stroke="#ff0000" stroke-width="1.4"/>
<path d="M119.01 389.63L121.91 393.63L119.01 397.63L116.11 393.63Z" fill="none" stroke="#ff0000" stroke-width="1.4"/>
<path d="M130.46 389.64L133.36 393.64L130.46 397.64L127.56 393.64Z" fill="none" stroke="#ff0000" stroke-width="1.4"/>
<path d="M141.91 389.66L144.81 393.66L141.91 397.66L139.01 393.66Z" fill="none" stroke="#ff0000" stroke-width="1.4"/>
<path d="M153.36 389.67L156.26 393.67L153.36 397.67L150.46 393.67Z" fill="none" stroke="#ff0000" stroke-width="1.4"/>
<path d="M164.81 389.68L167.71 393.68L164.81 397.68L161.91 393.68Z" fill="none" stroke="#ff0000" stroke-width="1.4"/>
<path d="M176.26 389.70L179.16 393.70L176.26 397.70L173.36 393.70Z" fill="none" stroke="#ff0000" stroke-width="1.4"/>
<path d="M187.71 389.71L190.61 393.71L187.71 397.71L184.81 393.71Z" fill="none" stroke="#ff0000" stroke-width="1.4"/>
<path d="M199.16 389.72L202.06 393.72L199.16 397.72L196.26 393.72Z" fill="none" stroke="#ff0000" stroke-width="1.4"/>
<path d="M210.61 389.74L213.51 393.74L210.61 397.74L207.71 393.74Z" fill="none" stroke="#ff0000" stroke-width="1.4"/>
<path d="M222.06 389.75L224.96 393.75L222.06 397.75L219.16 393.75Z" fill="none" stroke="#ff0000" stroke-width="1.4"/>
<path d="M233.51 389.76L236.41 393.76L233.51 397.76L230.61 393.76Z" fill="none" stroke="#ff0000" stroke-width="1.4"/>
<path d="M244.96 389.77L247.86 393.77L244.96 397.77L242.06 393.77Z" fill="none" stroke="#ff0000" stroke-width="1.4"/>
<path d="M256.41 389.79L259.31 393.79L256.41 397.79L253.51 393.79Z" fill="none" stroke="#ff0000" stroke-width="1.4"/>
<path d="M38.86 253.40L41.15 261.80L42.06 272.90L43.90 280.80L46.64 283.80L61.30 285.00L267.40 286.50" fill="none" stroke="#000000" stroke-width="1.5" stroke-linejoin="round"/>
<path d="M38.86 250.40L42.06 256.40L35.66 256.40Z" fill="none" stroke="#000000" stroke-width="1.4"/>
<path d="M50.31 281.10L53.51 287.10L47.11 287.10Z" fill="none" stroke="#000000" stroke-width="1.4"/>
<path d="M61.76 282.00L64.96 288.00L58.56 288.00Z" fill="none" stroke="#000000" stroke-width="1.4"/>
<path d="M73.21 282.09L76.41 288.09L70.01 288.09Z" fill="none" stroke="#000000" stroke-width="1.4"/>
<path d="M84.66 282.17L87.86 288.17L81.46 288.17Z" fill="none" stroke="#000000" stroke-width="1.4"/>
<path d="M96.11 282.25L99.31 288.25L92.91 288.25Z" fill="none" stroke="#000000" stroke-width="1.4"/>
<path d="M107.56 282.34L110.76 288.34L104.36 288.34Z" fill="none" stroke="#000000" stroke-width="1.4"/>
<path d="M119.01 282.42L122.21 288.42L115.81 288.42Z" fill="none" stroke="#000000" stroke-width="1.4"/>
<path d="M130.46 282.50L133.66 288.50L127.26 288.50Z" fill="none" stroke="#000000" stroke-width="1.4"/>
<path d="M141.91 282.59L145.11 288.59L138.71 288.59Z" fill="none" stroke="#000000" stroke-width="1.4"/>
<path d="M153.36 282.67L156.56 288.67L150.16 288.67Z" fill="none" stroke="#000000" stroke-width="1.4"/>
<path d="M164.81 282.75L168.01 288.75L161.61 288.75Z" fill="none" stroke="#000000" stroke-width="1.4"/>
<path d="M176.26 282.84L179.46 288.84L173.06 288.84Z" fill="none" stroke="#000000" stroke-width="1.4"/>
<path d="M187.71 282.92L190.91 288.92L184.51 288.92Z" fill="none" stroke="#000000" stroke-width="1.4"/>
<path d="M199.16 283.00L202.36 289.00L195.96 289.00Z" fill="none" stroke="#000000" stroke-width="1.4"/>
<path d="M210.61 283.09L213.81 289.09L207.41 289.09Z" fill="none" stroke="#000000" stroke-width="1.4"/>
<path d="M222.06 283.17L225.26 289.17L218.86 289.17Z" fill="none" stroke="#000000" stroke-width="1.4"/>
<path d="M233.51 283.25L236.71 289.25L230.31 289.25Z" fill="none" stroke="#000000" stroke-width="1.4"/>
<path d="M244.96 283.34L248.16 289.34L241.76 289.34Z" fill="none" stroke="#000000" stroke-width="1.4"/>
<path d="M256.41 283.42L259.61 289.42L253.21 289.42Z" fill="none" stroke="#000000" stroke-width="1.4"/>
<path d="M38.86 253.40L50.31 274.30L52.14 279.60L59.01 284.10L65.88 285.80L84.20 287.20L267.40 288.20" fill="none" stroke="#00ff00" stroke-width="1.5" stroke-linejoin="round"/>
<path d="M41.76 253.40L35.96 256.60L35.96 250.20Z" fill="none" stroke="#00ff00" stroke-width="1.4"/>
<path d="M53.21 274.30L47.41 277.50L47.41 271.10Z" fill="none" stroke="#00ff00" stroke-width="1.4"/>
<path d="M64.66 284.78L58.86 287.98L58.86 281.58Z" fill="none" stroke="#00ff00" stroke-width="1.4"/>
<path d="M76.11 286.36L70.31 289.56L70.31 283.16Z" fill="none" stroke="#00ff00" stroke-width="1.4"/>
<path d="M87.56 287.20L81.76 290.40L81.76 284.00Z" fill="none" stroke="#00ff00" stroke-width="1.4"/>
<path d="M99.01 287.26L93.21 290.46L93.21 284.06Z" fill="none" stroke="#00ff00" stroke-width="1.4"/>
<path d="M110.46 287.33L104.66 290.53L104.66 284.13Z" fill="none" stroke="#00ff00" stroke-width="1.4"/>
<path d="M121.91 287.39L116.11 290.59L116.11 284.19Z" fill="none" stroke="#00ff00" stroke-width="1.4"/>
<path d="M133.36 287.45L127.56 290.65L127.56 284.25Z" fill="none" stroke="#00ff00" stroke-width="1.4"/>
<path d="M144.81 287.51L139.01 290.71L139.01 284.31Z" fill="none" stroke="#00ff00" stroke-width="1.4"/>
<path d="M156.26 287.58L150.46 290.78L150.46 284.38Z" fill="none" stroke="#00ff00" stroke-width="1.4"/>
<path d="M167.71 287.64L161.91 290.84L161.91 284.44Z" fill="none" stroke="#00ff00" stroke-width="1.4"/>
<path d="M179.16 287.70L173.36 290.90L173.36 284.50Z" fill="none" stroke="#00ff00" stroke-width="1.4"/>
<path d="M190.61 287.76L184.81 290.96L184.81 284.56Z" fill="none" stroke="#00ff00" stroke-width="1.4"/>
<path d="M202.06 287.83L196.26 291.03L196.26 284.63Z" fill="none" stroke="#00ff00" stroke-width="1.4"/>
<path d="M213.51 287.89L207.71 291.09L207.71 284.69Z" fill="none" stroke="#00ff00" stroke-width="1.4"/>
<path d="M224.96 287.95L219.16 291.15L219.16 284.75Z" fill="none" stroke="#00ff00" stroke-width="1.4"/>
<path d="M236.41 288.01L230.61 291.21L230.61 284.81Z" fill="none" stroke="#00ff00" stroke-width="1.4"/>
<path d="M247.86 288.08L242.06 291.28L242.06 284.88Z" fill="none" stroke="#00ff00" stroke-width="1.4"/>
<path d="M259.31 288.14L253.51 291.34L253.51 284.94Z" fill="none" stroke="#00ff00" stroke-width="1.4"/>
<path d="M38.86 253.40L42.98 257.50L50.31 260.00L61.76 262.40L84.66 264.60L107.56 266.40L130.46 267.60L175.80 269.00L221.60 270.30L267.40 271.40" fill="none" stroke="#0000ff" stroke-width="1.5" stroke-linejoin="round"/>
<rect x="36.66" y="251.20" width="4.40" height="4.40" fill="none" stroke="#0000ff" stroke-width="1.4"/>
<rect x="48.11" y="257.80" width="4.40" height="4.40" fill="none" stroke="#0000ff" stroke-width="1.4"/>
<rect x="59.56" y="260.20" width="4.40" height="4.40" fill="none" stroke="#0000ff" stroke-width="1.4"/>
<rect x="71.01" y="261.30" width="4.40" height="4.40" fill="none" stroke="#0000ff" stroke-width="1.4"/>
<rect x="82.46" y="262.40" width="4.40" height="4.40" fill="none" stroke="#0000ff" stroke-width="1.4"/>
<rect x="93.91" y="263.30" width="4.40" height="4.40" fill="none" stroke="#0000ff" stroke-width="1.4"/>
<rect x="105.36" y="264.20" width="4.40" height="4.40" fill="none" stroke="#0000ff" stroke-width="1.4"/>
<rect x="116.81" y="264.80" width="4.40" height="4.40" fill="none" stroke="#0000ff" stroke-width="1.4"/>
<rect x="128.26" y="265.40" width="4.40" height="4.40" fill="none" stroke="#0000ff" stroke-width="1.4"/>
<rect x="139.71" y="265.75" width="4.40" height="4.40" fill="none" stroke="#0000ff" stroke-width="1.4"/>
<rect x="151.16" y="266.11" width="4.40" height="4.40" fill="none" stroke="#0000ff" stroke-width="1.4"/>
<rect x="162.61" y="266.46" width="4.40" height="4.40" fill="none" stroke="#0000ff" stroke-width="1.4"/>
<rect x="174.06" y="266.81" width="4.40" height="4.40" fill="none" stroke="#0000ff" stroke-width="1.4"/>
<rect x="185.51" y="267.14" width="4.40" height="4.40" fill="none" stroke="#0000ff" stroke-width="1.4"/>
<rect x="196.96" y="267.46" width="4.40" height="4.40" fill="none" stroke="#0000ff" stroke-width="1.4"/>
<rect x="208.41" y="267.79" width="4.40" height="4.40" fill="none" stroke="#0000ff" stroke-width="1.4"/>
<rect x="219.86" y="268.11" width="4.40" height="4.40" fill="none" stroke="#0000ff" stroke-width="1.4"/>
<rect x="231.31" y="268.39" width="4.40" height="4.40" fill="none" stroke="#0000ff" stroke-width="1.4"/>
<rect x="242.76" y="268.66" width="4.40" height="4.40" fill="none" stroke="#0000ff" stroke-width="1.4"/>
<rect x="254.21" y="268.94" width="4.40" height="4.40" fill="none" stroke="#0000ff" stroke-width="1.4"/>
<text x="38.40" y="432.40" text-anchor="middle" font-size="7">0</text>
<text x="61.30" y="432.40" text-anchor="middle" font-size="7">50</text>
<text x="84.20" y="432.40" text-anchor="middle" font-size="7">100</text>
<text x="107.10" y="432.40" text-anchor="middle" font-size="7">150</text>
<text x="130.00" y="432.40" text-anchor="middle" font-size="7">200</text>
<text x="152.90" y="432.40" text-anchor="middle" font-size="7">250</text>
<text x="175.80" y="432.40" text-anchor="middle" font-size="7">300</text>
<text x="198.70" y="432.40" text-anchor="middle" font-size="7">350</text>
<text x="221.60" y="432.40" text-anchor="middle" font-size="7">400</text>
<text x="244.50" y="432.40" text-anchor="middle" font-size="7">450</text>
<text x="267.40" y="432.40" text-anchor="middle" font-size="7">500</text>
<text x="152.90" y="441.60" text-anchor="middle" font-size="7.4">Iteration</text>
<text x="34.60" y="425.70" text-anchor="end" font-size="6.6">10<tspan font-size="5.2" dy="-2.7">-40</tspan></text>
<text x="34.60" y="391.04" text-anchor="end" font-size="6.6">10<tspan font-size="5.2" dy="-2.7">-30</tspan></text>
<text x="34.60" y="356.38" text-anchor="end" font-size="6.6">10<tspan font-size="5.2" dy="-2.7">-20</tspan></text>
<text x="34.60" y="321.72" text-anchor="end" font-size="6.6">10<tspan font-size="5.2" dy="-2.7">-10</tspan></text>
<text x="34.60" y="287.06" text-anchor="end" font-size="6.6">10<tspan font-size="5.2" dy="-2.7">0</tspan></text>
<text x="34.60" y="252.40" text-anchor="end" font-size="6.6">10<tspan font-size="5.2" dy="-2.7">10</tspan></text>
<text transform="translate(14.70 335.35) rotate(-90)" text-anchor="middle" font-size="7.4">log(Fitness value)</text>
<text x="152.90" y="245.60" text-anchor="middle" font-size="7.7">F5</text>
<text transform="translate(12.80 268.00) scale(1.0 1)" font-size="13.5" font-weight="bold" fill="#e00000" class="lt">e</text>
<rect x="215.70" y="294.10" width="48.60" height="34.60" fill="#fff" stroke="#7a7a7a" stroke-width="0.9"/>
<line x1="218.20" y1="298.90" x2="238.50" y2="298.90" stroke="#ff0000" stroke-width="1.5"/>
<path d="M228.40 294.90L231.30 298.90L228.40 302.90L225.50 298.90Z" fill="none" stroke="#ff0000" stroke-width="1.4"/>
<text x="240.70" y="301.20" font-size="6.4">FPPOA</text>
<line x1="218.20" y1="307.20" x2="238.50" y2="307.20" stroke="#000000" stroke-width="1.5"/>
<path d="M228.40 304.20L231.60 310.20L225.20 310.20Z" fill="none" stroke="#000000" stroke-width="1.4"/>
<text x="240.70" y="309.50" font-size="6.4">POA</text>
<line x1="218.20" y1="315.30" x2="238.50" y2="315.30" stroke="#00ff00" stroke-width="1.5"/>
<path d="M231.30 315.30L225.50 318.50L225.50 312.10Z" fill="none" stroke="#00ff00" stroke-width="1.4"/>
<text x="240.70" y="317.60" font-size="6.4">GWO</text>
<line x1="218.20" y1="323.60" x2="238.50" y2="323.60" stroke="#0000ff" stroke-width="1.5"/>
<rect x="226.20" y="321.40" width="4.40" height="4.40" fill="none" stroke="#0000ff" stroke-width="1.4"/>
<text x="240.70" y="325.90" font-size="6.4">PSO</text>
<g stroke="#7a7a7a" stroke-width="0.9"><line x1="308.10" y1="421.90" x2="308.10" y2="419.90"/><line x1="308.10" y1="248.90" x2="308.10" y2="250.90"/><line x1="331.00" y1="421.90" x2="331.00" y2="419.90"/><line x1="331.00" y1="248.90" x2="331.00" y2="250.90"/><line x1="353.90" y1="421.90" x2="353.90" y2="419.90"/><line x1="353.90" y1="248.90" x2="353.90" y2="250.90"/><line x1="376.80" y1="421.90" x2="376.80" y2="419.90"/><line x1="376.80" y1="248.90" x2="376.80" y2="250.90"/><line x1="399.70" y1="421.90" x2="399.70" y2="419.90"/><line x1="399.70" y1="248.90" x2="399.70" y2="250.90"/><line x1="422.60" y1="421.90" x2="422.60" y2="419.90"/><line x1="422.60" y1="248.90" x2="422.60" y2="250.90"/><line x1="445.50" y1="421.90" x2="445.50" y2="419.90"/><line x1="445.50" y1="248.90" x2="445.50" y2="250.90"/><line x1="468.40" y1="421.90" x2="468.40" y2="419.90"/><line x1="468.40" y1="248.90" x2="468.40" y2="250.90"/><line x1="491.30" y1="421.90" x2="491.30" y2="419.90"/><line x1="491.30" y1="248.90" x2="491.30" y2="250.90"/><line x1="514.20" y1="421.90" x2="514.20" y2="419.90"/><line x1="514.20" y1="248.90" x2="514.20" y2="250.90"/><line x1="537.10" y1="421.90" x2="537.10" y2="419.90"/><line x1="537.10" y1="248.90" x2="537.10" y2="250.90"/><line x1="308.10" y1="421.90" x2="310.10" y2="421.90"/><line x1="537.10" y1="421.90" x2="535.10" y2="421.90"/><line x1="308.10" y1="404.57" x2="309.60" y2="404.57"/><line x1="537.10" y1="404.57" x2="535.60" y2="404.57"/><line x1="308.10" y1="387.24" x2="310.10" y2="387.24"/><line x1="537.10" y1="387.24" x2="535.10" y2="387.24"/><line x1="308.10" y1="369.91" x2="309.60" y2="369.91"/><line x1="537.10" y1="369.91" x2="535.60" y2="369.91"/><line x1="308.10" y1="352.58" x2="310.10" y2="352.58"/><line x1="537.10" y1="352.58" x2="535.10" y2="352.58"/><line x1="308.10" y1="335.25" x2="309.60" y2="335.25"/><line x1="537.10" y1="335.25" x2="535.60" y2="335.25"/><line x1="308.10" y1="317.92" x2="310.10" y2="317.92"/><line x1="537.10" y1="317.92" x2="535.10" y2="317.92"/><line x1="308.10" y1="300.59" x2="309.60" y2="300.59"/><line x1="537.10" y1="300.59" x2="535.60" y2="300.59"/><line x1="308.10" y1="283.26" x2="310.10" y2="283.26"/><line x1="537.10" y1="283.26" x2="535.10" y2="283.26"/><line x1="308.10" y1="265.93" x2="309.60" y2="265.93"/><line x1="537.10" y1="265.93" x2="535.60" y2="265.93"/></g>
<rect x="308.10" y="248.90" width="229.00" height="173.00" fill="none" stroke="#7a7a7a" stroke-width="0.9"/>
<path d="M308.56 262.30L309.02 269.60L310.39 281.90L312.68 295.00L319.55 311.60L331.46 334.90L342.91 356.10L353.90 379.90L362.60 393.60L537.10 393.80" fill="none" stroke="#ff0000" stroke-width="1.5" stroke-linejoin="round"/>
<path d="M308.56 258.30L311.46 262.30L308.56 266.30L305.66 262.30Z" fill="none" stroke="#ff0000" stroke-width="1.4"/>
<path d="M320.01 308.50L322.91 312.50L320.01 316.50L317.11 312.50Z" fill="none" stroke="#ff0000" stroke-width="1.4"/>
<path d="M331.46 330.90L334.36 334.90L331.46 338.90L328.56 334.90Z" fill="none" stroke="#ff0000" stroke-width="1.4"/>
<path d="M342.91 352.10L345.81 356.10L342.91 360.10L340.01 356.10Z" fill="none" stroke="#ff0000" stroke-width="1.4"/>
<path d="M354.36 376.62L357.26 380.62L354.36 384.62L351.46 380.62Z" fill="none" stroke="#ff0000" stroke-width="1.4"/>
<path d="M365.81 389.60L368.71 393.60L365.81 397.60L362.91 393.60Z" fill="none" stroke="#ff0000" stroke-width="1.4"/>
<path d="M377.26 389.62L380.16 393.62L377.26 397.62L374.36 393.62Z" fill="none" stroke="#ff0000" stroke-width="1.4"/>
<path d="M388.71 389.63L391.61 393.63L388.71 397.63L385.81 393.63Z" fill="none" stroke="#ff0000" stroke-width="1.4"/>
<path d="M400.16 389.64L403.06 393.64L400.16 397.64L397.26 393.64Z" fill="none" stroke="#ff0000" stroke-width="1.4"/>
<path d="M411.61 389.66L414.51 393.66L411.61 397.66L408.71 393.66Z" fill="none" stroke="#ff0000" stroke-width="1.4"/>
<path d="M423.06 389.67L425.96 393.67L423.06 397.67L420.16 393.67Z" fill="none" stroke="#ff0000" stroke-width="1.4"/>
<path d="M434.51 389.68L437.41 393.68L434.51 397.68L431.61 393.68Z" fill="none" stroke="#ff0000" stroke-width="1.4"/>
<path d="M445.96 389.70L448.86 393.70L445.96 397.70L443.06 393.70Z" fill="none" stroke="#ff0000" stroke-width="1.4"/>
<path d="M457.41 389.71L460.31 393.71L457.41 397.71L454.51 393.71Z" fill="none" stroke="#ff0000" stroke-width="1.4"/>
<path d="M468.86 389.72L471.76 393.72L468.86 397.72L465.96 393.72Z" fill="none" stroke="#ff0000" stroke-width="1.4"/>
<path d="M480.31 389.73L483.21 393.73L480.31 397.73L477.41 393.73Z" fill="none" stroke="#ff0000" stroke-width="1.4"/>
<path d="M491.76 389.75L494.66 393.75L491.76 397.75L488.86 393.75Z" fill="none" stroke="#ff0000" stroke-width="1.4"/>
<path d="M503.21 389.76L506.11 393.76L503.21 397.76L500.31 393.76Z" fill="none" stroke="#ff0000" stroke-width="1.4"/>
<path d="M514.66 389.77L517.56 393.77L514.66 397.77L511.76 393.77Z" fill="none" stroke="#ff0000" stroke-width="1.4"/>
<path d="M526.11 389.79L529.01 393.79L526.11 397.79L523.21 393.79Z" fill="none" stroke="#ff0000" stroke-width="1.4"/>
<path d="M308.56 252.60L311.31 261.80L312.68 274.00L314.51 280.80L321.84 281.30L537.10 281.60" fill="none" stroke="#000000" stroke-width="1.5" stroke-linejoin="round"/>
<path d="M308.56 249.60L311.76 255.60L305.36 255.60Z" fill="none" stroke="#000000" stroke-width="1.4"/>
<path d="M320.01 278.18L323.21 284.18L316.81 284.18Z" fill="none" stroke="#000000" stroke-width="1.4"/>
<path d="M331.46 278.31L334.66 284.31L328.26 284.31Z" fill="none" stroke="#000000" stroke-width="1.4"/>
<path d="M342.91 278.33L346.11 284.33L339.71 284.33Z" fill="none" stroke="#000000" stroke-width="1.4"/>
<path d="M354.36 278.35L357.56 284.35L351.16 284.35Z" fill="none" stroke="#000000" stroke-width="1.4"/>
<path d="M365.81 278.36L369.01 284.36L362.61 284.36Z" fill="none" stroke="#000000" stroke-width="1.4"/>
<path d="M377.26 278.38L380.46 284.38L374.06 284.38Z" fill="none" stroke="#000000" stroke-width="1.4"/>
<path d="M388.71 278.39L391.91 284.39L385.51 284.39Z" fill="none" stroke="#000000" stroke-width="1.4"/>
<path d="M400.16 278.41L403.36 284.41L396.96 284.41Z" fill="none" stroke="#000000" stroke-width="1.4"/>
<path d="M411.61 278.43L414.81 284.43L408.41 284.43Z" fill="none" stroke="#000000" stroke-width="1.4"/>
<path d="M423.06 278.44L426.26 284.44L419.86 284.44Z" fill="none" stroke="#000000" stroke-width="1.4"/>
<path d="M434.51 278.46L437.71 284.46L431.31 284.46Z" fill="none" stroke="#000000" stroke-width="1.4"/>
<path d="M445.96 278.47L449.16 284.47L442.76 284.47Z" fill="none" stroke="#000000" stroke-width="1.4"/>
<path d="M457.41 278.49L460.61 284.49L454.21 284.49Z" fill="none" stroke="#000000" stroke-width="1.4"/>
<path d="M468.86 278.50L472.06 284.50L465.66 284.50Z" fill="none" stroke="#000000" stroke-width="1.4"/>
<path d="M480.31 278.52L483.51 284.52L477.11 284.52Z" fill="none" stroke="#000000" stroke-width="1.4"/>
<path d="M491.76 278.54L494.96 284.54L488.56 284.54Z" fill="none" stroke="#000000" stroke-width="1.4"/>
<path d="M503.21 278.55L506.41 284.55L500.01 284.55Z" fill="none" stroke="#000000" stroke-width="1.4"/>
<path d="M514.66 278.57L517.86 284.57L511.46 284.57Z" fill="none" stroke="#000000" stroke-width="1.4"/>
<path d="M526.11 278.58L529.31 284.58L522.91 284.58Z" fill="none" stroke="#000000" stroke-width="1.4"/>
<path d="M308.56 252.60L320.01 268.50L322.30 273.60L324.13 279.60L329.17 283.00L335.58 283.50L537.10 284.00" fill="none" stroke="#00ff00" stroke-width="1.5" stroke-linejoin="round"/>
<path d="M311.46 252.60L305.66 255.80L305.66 249.40Z" fill="none" stroke="#00ff00" stroke-width="1.4"/>
<path d="M322.91 268.50L317.11 271.70L317.11 265.30Z" fill="none" stroke="#00ff00" stroke-width="1.4"/>
<path d="M334.36 283.18L328.56 286.38L328.56 279.98Z" fill="none" stroke="#00ff00" stroke-width="1.4"/>
<path d="M345.81 283.52L340.01 286.72L340.01 280.32Z" fill="none" stroke="#00ff00" stroke-width="1.4"/>
<path d="M357.26 283.55L351.46 286.75L351.46 280.35Z" fill="none" stroke="#00ff00" stroke-width="1.4"/>
<path d="M368.71 283.57L362.91 286.77L362.91 280.38Z" fill="none" stroke="#00ff00" stroke-width="1.4"/>
<path d="M380.16 283.60L374.36 286.80L374.36 280.40Z" fill="none" stroke="#00ff00" stroke-width="1.4"/>
<path d="M391.61 283.63L385.81 286.83L385.81 280.43Z" fill="none" stroke="#00ff00" stroke-width="1.4"/>
<path d="M403.06 283.66L397.26 286.86L397.26 280.46Z" fill="none" stroke="#00ff00" stroke-width="1.4"/>
<path d="M414.51 283.69L408.71 286.89L408.71 280.49Z" fill="none" stroke="#00ff00" stroke-width="1.4"/>
<path d="M425.96 283.72L420.16 286.92L420.16 280.52Z" fill="none" stroke="#00ff00" stroke-width="1.4"/>
<path d="M437.41 283.75L431.61 286.95L431.61 280.55Z" fill="none" stroke="#00ff00" stroke-width="1.4"/>
<path d="M448.86 283.77L443.06 286.97L443.06 280.57Z" fill="none" stroke="#00ff00" stroke-width="1.4"/>
<path d="M460.31 283.80L454.51 287.00L454.51 280.60Z" fill="none" stroke="#00ff00" stroke-width="1.4"/>
<path d="M471.76 283.83L465.96 287.03L465.96 280.63Z" fill="none" stroke="#00ff00" stroke-width="1.4"/>
<path d="M483.21 283.86L477.41 287.06L477.41 280.66Z" fill="none" stroke="#00ff00" stroke-width="1.4"/>
<path d="M494.66 283.89L488.86 287.09L488.86 280.69Z" fill="none" stroke="#00ff00" stroke-width="1.4"/>
<path d="M506.11 283.92L500.31 287.12L500.31 280.72Z" fill="none" stroke="#00ff00" stroke-width="1.4"/>
<path d="M517.56 283.94L511.76 287.14L511.76 280.74Z" fill="none" stroke="#00ff00" stroke-width="1.4"/>
<path d="M529.01 283.97L523.21 287.17L523.21 280.77Z" fill="none" stroke="#00ff00" stroke-width="1.4"/>
<path d="M308.56 252.60L320.01 258.40L331.00 259.30L342.45 259.80L354.36 260.60L365.81 261.10L377.26 261.90L388.71 262.50L400.16 263.00L537.10 265.80" fill="none" stroke="#0000ff" stroke-width="1.5" stroke-linejoin="round"/>
<rect x="306.36" y="250.40" width="4.40" height="4.40" fill="none" stroke="#0000ff" stroke-width="1.4"/>
<rect x="317.81" y="256.20" width="4.40" height="4.40" fill="none" stroke="#0000ff" stroke-width="1.4"/>
<rect x="329.26" y="257.12" width="4.40" height="4.40" fill="none" stroke="#0000ff" stroke-width="1.4"/>
<rect x="340.71" y="257.63" width="4.40" height="4.40" fill="none" stroke="#0000ff" stroke-width="1.4"/>
<rect x="352.16" y="258.40" width="4.40" height="4.40" fill="none" stroke="#0000ff" stroke-width="1.4"/>
<rect x="363.61" y="258.90" width="4.40" height="4.40" fill="none" stroke="#0000ff" stroke-width="1.4"/>
<rect x="375.06" y="259.70" width="4.40" height="4.40" fill="none" stroke="#0000ff" stroke-width="1.4"/>
<rect x="386.51" y="260.30" width="4.40" height="4.40" fill="none" stroke="#0000ff" stroke-width="1.4"/>
<rect x="397.96" y="260.80" width="4.40" height="4.40" fill="none" stroke="#0000ff" stroke-width="1.4"/>
<rect x="409.41" y="261.03" width="4.40" height="4.40" fill="none" stroke="#0000ff" stroke-width="1.4"/>
<rect x="420.86" y="261.27" width="4.40" height="4.40" fill="none" stroke="#0000ff" stroke-width="1.4"/>
<rect x="432.31" y="261.50" width="4.40" height="4.40" fill="none" stroke="#0000ff" stroke-width="1.4"/>
<rect x="443.76" y="261.74" width="4.40" height="4.40" fill="none" stroke="#0000ff" stroke-width="1.4"/>
<rect x="455.21" y="261.97" width="4.40" height="4.40" fill="none" stroke="#0000ff" stroke-width="1.4"/>
<rect x="466.66" y="262.20" width="4.40" height="4.40" fill="none" stroke="#0000ff" stroke-width="1.4"/>
<rect x="478.11" y="262.44" width="4.40" height="4.40" fill="none" stroke="#0000ff" stroke-width="1.4"/>
<rect x="489.56" y="262.67" width="4.40" height="4.40" fill="none" stroke="#0000ff" stroke-width="1.4"/>
<rect x="501.01" y="262.91" width="4.40" height="4.40" fill="none" stroke="#0000ff" stroke-width="1.4"/>
<rect x="512.46" y="263.14" width="4.40" height="4.40" fill="none" stroke="#0000ff" stroke-width="1.4"/>
<rect x="523.91" y="263.38" width="4.40" height="4.40" fill="none" stroke="#0000ff" stroke-width="1.4"/>
<text x="308.10" y="432.40" text-anchor="middle" font-size="7">0</text>
<text x="331.00" y="432.40" text-anchor="middle" font-size="7">50</text>
<text x="353.90" y="432.40" text-anchor="middle" font-size="7">100</text>
<text x="376.80" y="432.40" text-anchor="middle" font-size="7">150</text>
<text x="399.70" y="432.40" text-anchor="middle" font-size="7">200</text>
<text x="422.60" y="432.40" text-anchor="middle" font-size="7">250</text>
<text x="445.50" y="432.40" text-anchor="middle" font-size="7">300</text>
<text x="468.40" y="432.40" text-anchor="middle" font-size="7">350</text>
<text x="491.30" y="432.40" text-anchor="middle" font-size="7">400</text>
<text x="514.20" y="432.40" text-anchor="middle" font-size="7">450</text>
<text x="537.10" y="432.40" text-anchor="middle" font-size="7">500</text>
<text x="422.60" y="441.60" text-anchor="middle" font-size="7.4">Iteration</text>
<text x="304.30" y="425.70" text-anchor="end" font-size="6.6">10<tspan font-size="5.2" dy="-2.7">-40</tspan></text>
<text x="304.30" y="391.04" text-anchor="end" font-size="6.6">10<tspan font-size="5.2" dy="-2.7">-30</tspan></text>
<text x="304.30" y="356.38" text-anchor="end" font-size="6.6">10<tspan font-size="5.2" dy="-2.7">-20</tspan></text>
<text x="304.30" y="321.72" text-anchor="end" font-size="6.6">10<tspan font-size="5.2" dy="-2.7">-10</tspan></text>
<text x="304.30" y="287.06" text-anchor="end" font-size="6.6">10<tspan font-size="5.2" dy="-2.7">0</tspan></text>
<text x="304.30" y="252.40" text-anchor="end" font-size="6.6">10<tspan font-size="5.2" dy="-2.7">10</tspan></text>
<text transform="translate(284.40 335.40) rotate(-90)" text-anchor="middle" font-size="7.4">log(Fitness value)</text>
<text x="422.60" y="245.60" text-anchor="middle" font-size="7.7">F6</text>
<text transform="translate(286.60 268.00) scale(1.0 1)" font-size="13.5" font-weight="bold" fill="#e00000" class="lt">f</text>
<rect x="488.30" y="291.90" width="48.80" height="34.50" fill="#fff" stroke="#7a7a7a" stroke-width="0.9"/>
<line x1="490.60" y1="296.80" x2="511.70" y2="296.80" stroke="#ff0000" stroke-width="1.5"/>
<path d="M501.30 292.80L504.20 296.80L501.30 300.80L498.40 296.80Z" fill="none" stroke="#ff0000" stroke-width="1.4"/>
<text x="513.30" y="299.10" font-size="6.4">FPPOA</text>
<line x1="490.60" y1="305.30" x2="511.70" y2="305.30" stroke="#000000" stroke-width="1.5"/>
<path d="M501.30 302.30L504.50 308.30L498.10 308.30Z" fill="none" stroke="#000000" stroke-width="1.4"/>
<text x="513.30" y="307.60" font-size="6.4">POA</text>
<line x1="490.60" y1="313.40" x2="511.70" y2="313.40" stroke="#00ff00" stroke-width="1.5"/>
<path d="M504.20 313.40L498.40 316.60L498.40 310.20Z" fill="none" stroke="#00ff00" stroke-width="1.4"/>
<text x="513.30" y="315.70" font-size="6.4">GWO</text>
<line x1="490.60" y1="322.20" x2="511.70" y2="322.20" stroke="#0000ff" stroke-width="1.5"/>
<rect x="499.10" y="320.00" width="4.40" height="4.40" fill="none" stroke="#0000ff" stroke-width="1.4"/>
<text x="513.30" y="324.50" font-size="6.4">PSO</text>
<rect x="269.4" y="444.3" width="1.2" height="1.2" fill="#888"/>
</svg>
</body></html>
